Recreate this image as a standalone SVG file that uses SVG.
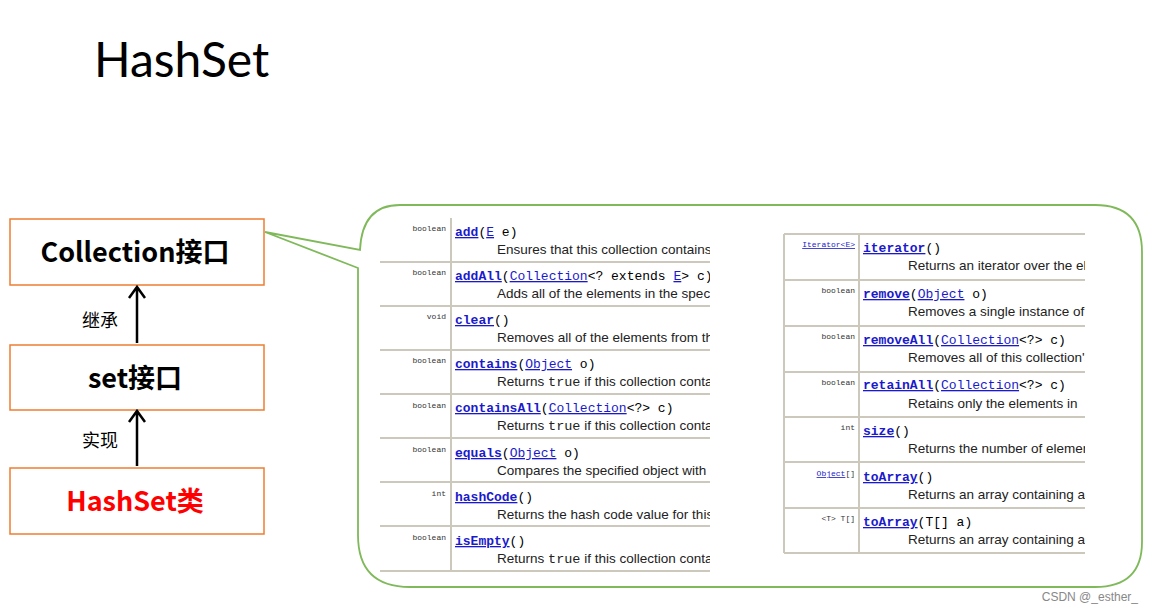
<svg xmlns="http://www.w3.org/2000/svg" width="1156" height="612" viewBox="0 0 1156 612">
<style>
.box{fill:#fff;stroke:#ed7d31;stroke-width:1.5}
.lbl{font-family:"Noto Sans CJK SC","Noto Sans",sans-serif;font-weight:bold;font-size:27px;text-anchor:middle}
.cn{font-family:"Noto Sans CJK SC",sans-serif;font-size:18px;text-anchor:middle}
.ty{font-family:"Liberation Mono",monospace;font-size:8px;text-anchor:end;fill:#333}
.m{font-family:"Liberation Mono",monospace;font-size:13px;fill:#000}
.mn{font-weight:bold;fill:#1a1acc;text-decoration:underline}
.lk{fill:#1a1acc;text-decoration:underline}
.d{font-family:"Liberation Sans",sans-serif;font-size:13.5px;fill:#222}
.g{stroke:#ccc8bc;stroke-width:2;fill:none}
</style>
<defs>
<clipPath id="cl"><rect x="370" y="210" width="340" height="370"/></clipPath>
<clipPath id="cr"><rect x="780" y="225" width="305" height="340"/></clipPath>
</defs>
<rect width="1156" height="612" fill="#fff"/>
<text x="94" y="77" font-family="Lato,'Open Sans',sans-serif" font-size="48">HashSet</text>
<g id="collection"><rect class="box" x="10" y="219" width="254" height="66"/><text class="lbl" x="135" y="262">Collection接口</text></g>
<g id="set"><rect class="box" x="10" y="345" width="254" height="65"/><text class="lbl" x="135" y="388">set接口</text></g>
<g id="hashset"><rect class="box" x="10" y="468" width="254" height="66"/><text class="lbl" x="135" y="511" fill="#ff0000">HashSet类</text></g>
<g id="connectors" stroke="#000" stroke-width="2.5" fill="none">
<path d="M137 343V288M129 298L137 287L145 298"/>
<path d="M137 466V412M129 422L137 411L145 422"/>
</g>
<text class="cn" x="100" y="327">继承</text>
<text class="cn" x="100" y="447">实现</text>
<g id="callout">
<path d="M400 205H1095Q1142 205 1142 252V542Q1142 587 1095 587H410Q358 587 358 535V268L265 232L360 250Q362 205 400 205Z" fill="#fff" stroke="#7fb95a" stroke-width="1.8"/>
</g>
<g id="left-table" clip-path="url(#cl)">
<path class="g" d="M380 262H712M380 306H712M380 350H712M380 394H712M380 438H712M380 482H712M380 526H712M380 571H712M451 218V571"/>
<text class="ty" x="446" y="231">boolean</text><text class="m" x="455" y="236"><tspan class="mn">add</tspan>(<tspan class="lk">E</tspan> e)</text><text class="d" x="497" y="254">Ensures that this collection contains the specified element</text>
<text class="ty" x="446" y="275">boolean</text><text class="m" x="455" y="280"><tspan class="mn">addAll</tspan>(<tspan class="lk">Collection</tspan>&lt;? extends <tspan class="lk">E</tspan>&gt; c)</text><text class="d" x="497" y="298">Adds all of the elements in the specified collection</text>
<text class="ty" x="446" y="319">void</text><text class="m" x="455" y="324"><tspan class="mn">clear</tspan>()</text><text class="d" x="497" y="342">Removes all of the elements from this collection</text>
<text class="ty" x="446" y="363">boolean</text><text class="m" x="455" y="368"><tspan class="mn">contains</tspan>(<tspan class="lk">Object</tspan> o)</text><text class="d" x="497" y="386">Returns <tspan font-family="Liberation Mono">true</tspan> if this collection contains</text>
<text class="ty" x="446" y="408">boolean</text><text class="m" x="455" y="412"><tspan class="mn">containsAll</tspan>(<tspan class="lk">Collection</tspan>&lt;?&gt; c)</text><text class="d" x="497" y="430">Returns <tspan font-family="Liberation Mono">true</tspan> if this collection contains</text>
<text class="ty" x="446" y="452">boolean</text><text class="m" x="455" y="457"><tspan class="mn">equals</tspan>(<tspan class="lk">Object</tspan> o)</text><text class="d" x="497" y="475">Compares the specified object with</text>
<text class="ty" x="446" y="496">int</text><text class="m" x="455" y="501"><tspan class="mn">hashCode</tspan>()</text><text class="d" x="497" y="519">Returns the hash code value for this</text>
<text class="ty" x="446" y="540">boolean</text><text class="m" x="455" y="545"><tspan class="mn">isEmpty</tspan>()</text><text class="d" x="497" y="563">Returns <tspan font-family="Liberation Mono">true</tspan> if this collection contains</text>
</g>
<g id="right-table" clip-path="url(#cr)">
<path class="g" d="M784 234H1090M784 280H1090M784 326H1090M784 372H1090M784 417H1090M784 462H1090M784 508H1090M784 553H1090M784 234V553M859 234V553"/>
<text class="ty lk" x="855" y="247">Iterator&lt;E&gt;</text><text class="m" x="863" y="252"><tspan class="mn">iterator</tspan>()</text><text class="d" x="908" y="270">Returns an iterator over the elements</text>
<text class="ty" x="855" y="293">boolean</text><text class="m" x="863" y="298"><tspan class="mn">remove</tspan>(<tspan class="lk">Object</tspan> o)</text><text class="d" x="908" y="316">Removes a single instance of</text>
<text class="ty" x="855" y="339">boolean</text><text class="m" x="863" y="344"><tspan class="mn">removeAll</tspan>(<tspan class="lk">Collection</tspan>&lt;?&gt; c)</text><text class="d" x="908" y="362">Removes all of this collection's</text>
<text class="ty" x="855" y="385">boolean</text><text class="m" x="863" y="389"><tspan class="mn">retainAll</tspan>(<tspan class="lk">Collection</tspan>&lt;?&gt; c)</text><text class="d" x="908" y="408">Retains only the elements in</text>
<text class="ty" x="855" y="430">int</text><text class="m" x="863" y="435"><tspan class="mn">size</tspan>()</text><text class="d" x="908" y="453">Returns the number of elements</text>
<text class="ty" x="855" y="476"><tspan class="lk">Object</tspan>[]</text><text class="m" x="863" y="481"><tspan class="mn">toArray</tspan>()</text><text class="d" x="908" y="499">Returns an array containing all</text>
<text class="ty" x="855" y="521">&lt;T&gt; T[]</text><text class="m" x="863" y="526"><tspan class="mn">toArray</tspan>(T[] a)</text><text class="d" x="908" y="544">Returns an array containing all</text>
</g>
<text x="1138" y="601" font-family="'Liberation Sans',sans-serif" font-size="12" fill="#888" text-anchor="end">CSDN @_esther_</text>
</svg>
